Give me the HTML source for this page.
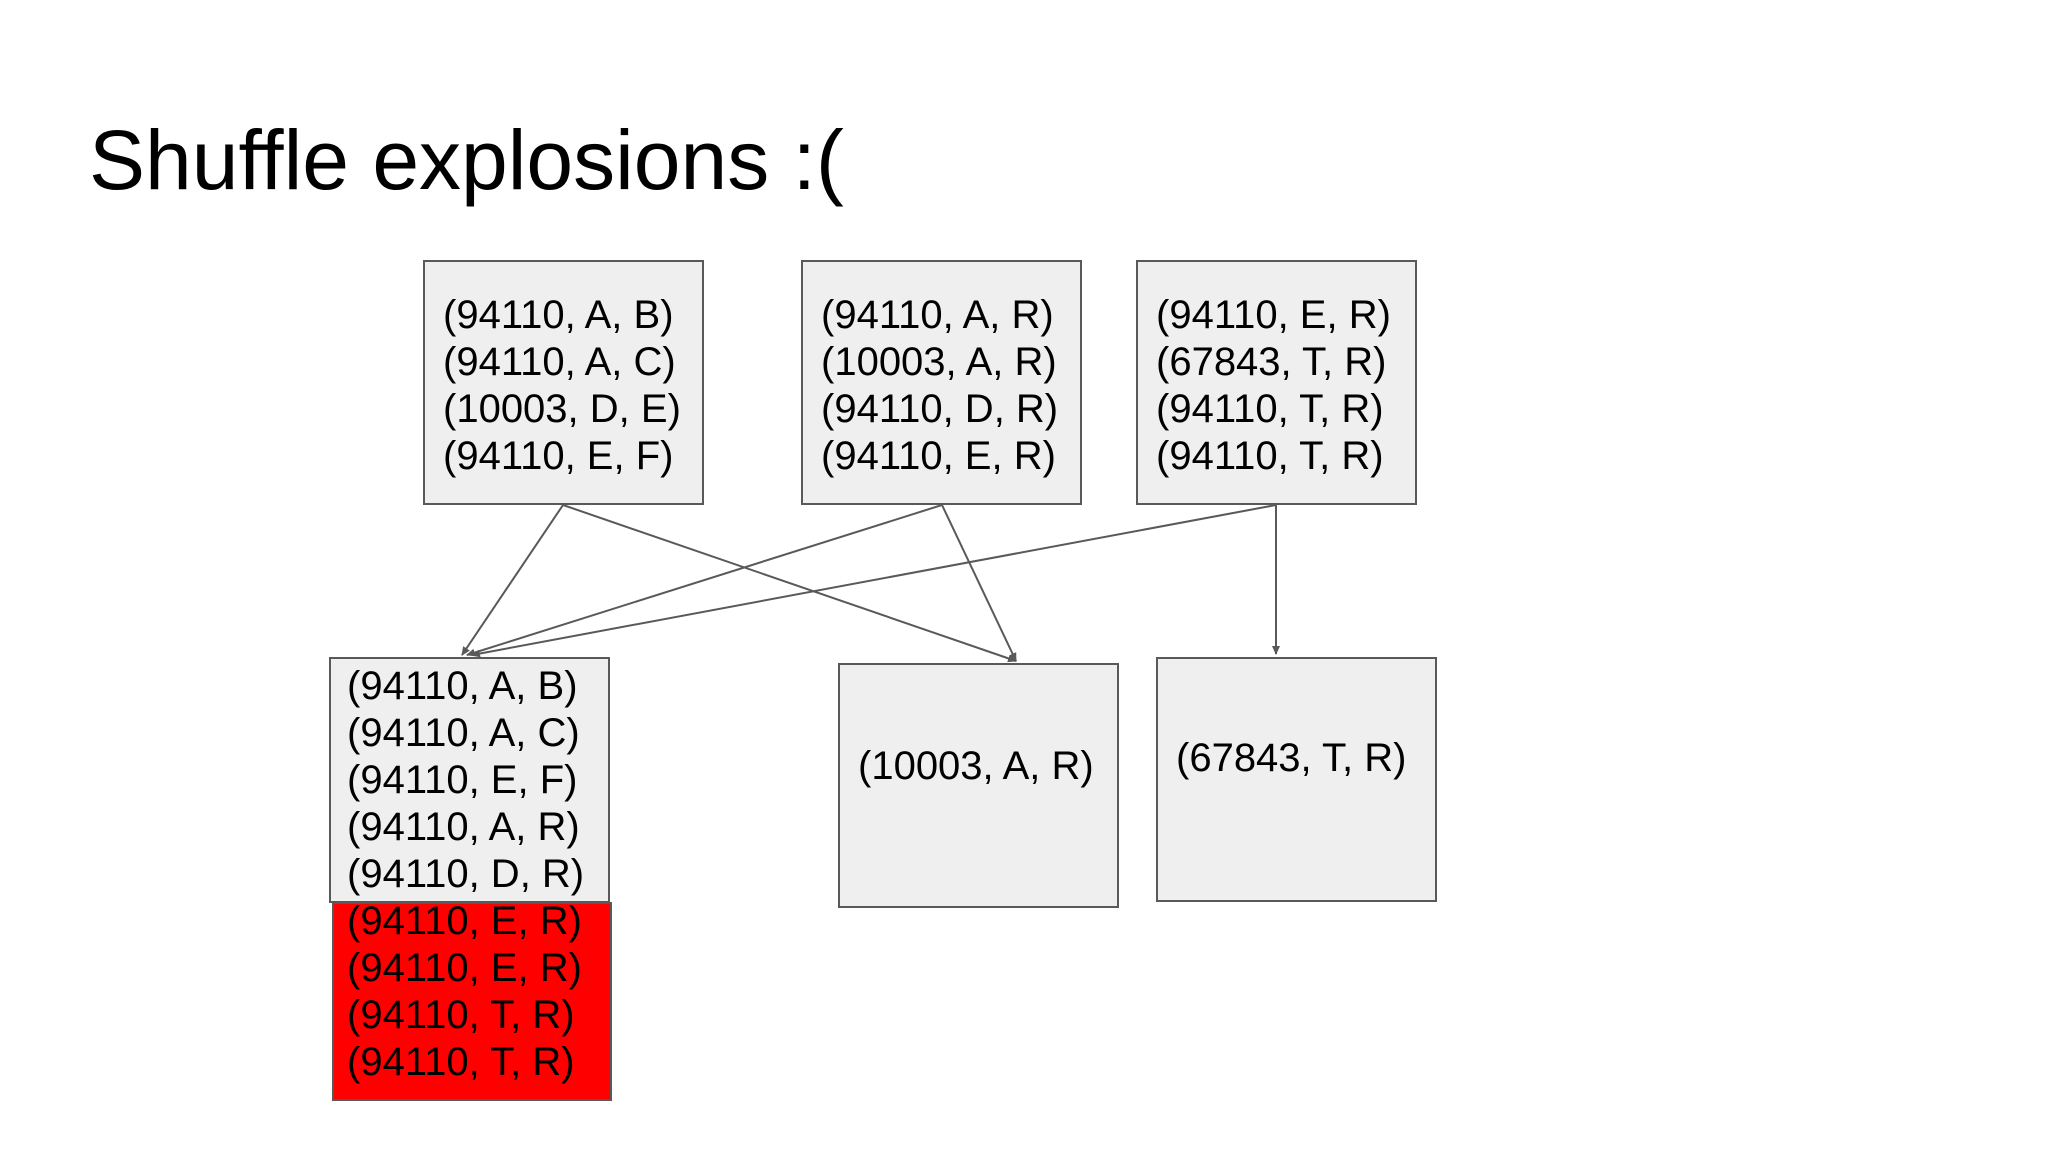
<!DOCTYPE html>
<html><head><meta charset="utf-8"><style>
body{margin:0;width:2048px;height:1152px;background:#fff;position:relative;overflow:hidden;font-family:"Liberation Sans",Arial,sans-serif}
.t{position:absolute;left:89px;top:112px;font-size:84px;color:#000;white-space:nowrap}
.b{position:absolute;background:#efefef;border:2px solid #595959;box-sizing:border-box;font-size:40px;line-height:47px;color:#000;white-space:nowrap}
.b div{position:absolute}
</style></head><body>
<div class="t">Shuffle explosions :(</div>
<div class="b" style="left:423px;top:260px;width:281px;height:245px"><div style="left:18px;top:30px">(94110, A, B)<br>(94110, A, C)<br>(10003, D, E)<br>(94110, E, F)</div></div>
<div class="b" style="left:801px;top:260px;width:281px;height:245px"><div style="left:18px;top:30px">(94110, A, R)<br>(10003, A, R)<br>(94110, D, R)<br>(94110, E, R)</div></div>
<div class="b" style="left:1136px;top:260px;width:281px;height:245px"><div style="left:18px;top:30px">(94110, E, R)<br>(67843, T, R)<br>(94110, T, R)<br>(94110, T, R)</div></div>
<div class="b" style="left:332px;top:902px;width:280px;height:199px;background:#ff0000"></div>
<div class="b" style="left:329px;top:657px;width:281px;height:245px;overflow:visible;background:transparent;border:none"></div>
<div class="b" style="left:329px;top:657px;width:281px;height:246px"></div>
<div style="position:absolute;left:347px;top:663px;font-size:40px;line-height:47px;white-space:nowrap">(94110, A, B)<br>(94110, A, C)<br>(94110, E, F)<br>(94110, A, R)<br>(94110, D, R)<br>(94110, E, R)<br>(94110, E, R)<br>(94110, T, R)<br>(94110, T, R)</div>
<div class="b" style="left:838px;top:663px;width:281px;height:245px"><div style="left:18px;top:78px">(10003, A, R)</div></div>
<div class="b" style="left:1156px;top:657px;width:281px;height:245px"><div style="left:18px;top:76px">(67843, T, R)</div></div>
<svg style="position:absolute;left:0;top:0" width="2048" height="1152">
<defs><marker id="a" markerWidth="10" markerHeight="10" refX="8" refY="5" orient="auto" markerUnits="userSpaceOnUse"><path d="M0,1 L9,5 L0,9 z" fill="#595959"/></marker></defs>
<g stroke="#595959" stroke-width="2" fill="none" marker-end="url(#a)">
<line x1="563" y1="505" x2="462" y2="655"/>
<line x1="563" y1="505" x2="1016" y2="661"/>
<line x1="942" y1="505" x2="467" y2="655"/>
<line x1="942" y1="505" x2="1016" y2="661"/>
<line x1="1276" y1="505" x2="472" y2="655"/>
<line x1="1276" y1="505" x2="1276" y2="654"/>
</g></svg>
</body></html>
